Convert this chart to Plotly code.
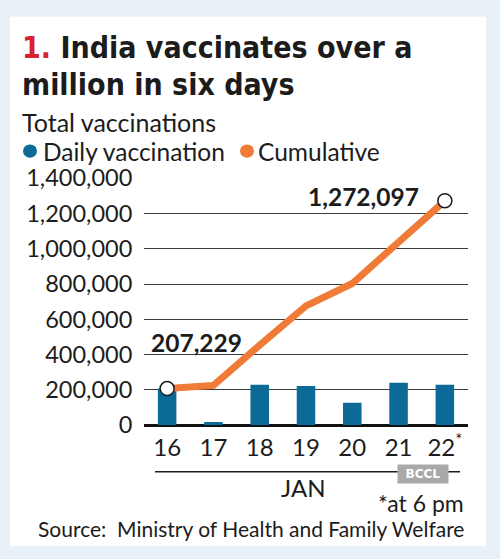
import plotly.graph_objects as go

days = ["16", "17", "18", "19", "20", "21", "22"]
day_labels = ["16", "17", "18", "19", "20", "21", "22<sup>*</sup>"]
daily = [207229, 17900, 229000, 222000, 127000, 240000, 229000]
cumulative = [207229, 225100, 454100, 676100, 803100, 1043100, 1272097]
y_ticks = [0, 200000, 400000, 600000, 800000, 1000000, 1200000, 1400000]
y_tick_labels = ["0", "200,000", "400,000", "600,000", "800,000", "1,000,000", "1,200,000", "1,400,000"]
series_names = ["Daily vaccination", "Cumulative"]

W, H = 500, 559
BLUE = "#0b6a96"
ORANGE = "#f07b37"
DARK = "#1c1c1c"
FONT = "Lato"
TITLE_FONT = "DejaVu Sans Condensed"

def px(x):
    return x / W

def py(y):
    return 1 - y / H

fig = go.Figure()
fig.add_trace(go.Bar(x=days, y=daily, marker=dict(color=BLUE, line=dict(width=0)),
                     width=0.4, name=series_names[0]))
fig.add_trace(go.Scatter(x=days, y=cumulative, mode="lines",
                         line=dict(color=ORANGE, width=7), name=series_names[1], cliponaxis=False))
end_idx = [0, len(days) - 1]
fig.add_trace(go.Scatter(x=[days[i] for i in end_idx], y=[cumulative[i] for i in end_idx],
                         mode="markers", cliponaxis=False,
                         marker=dict(size=14, color="white", line=dict(color=DARK, width=1.5)),
                         showlegend=False))

annotations = [
    dict(x=end_idx[0], y=cumulative[0], xref="x", yref="y", text="<b>{:,}</b>".format(cumulative[0]),
         showarrow=False, xanchor="left", yanchor="bottom", xshift=-18, yshift=30,
         font=dict(family=FONT, size=24.5, color=DARK)),
    dict(x=end_idx[1], y=cumulative[-1], xref="x", yref="y", text="<b>{:,}</b>".format(cumulative[-1]),
         showarrow=False, xanchor="right", yanchor="middle", xshift=-24, yshift=4,
         font=dict(family=FONT, size=24.5, color=DARK)),
    dict(x=px(20), y=py(35), xref="paper", yref="paper", xanchor="left", yanchor="middle",
         text="<b><span style='color:#d8212b'>1.</span> India vaccinates over a</b>",
         showarrow=False, font=dict(family=TITLE_FONT, size=30, color=DARK)),
    dict(x=px(20), y=py(74), xref="paper", yref="paper", xanchor="left", yanchor="middle",
         text="<b>million in six days</b>",
         showarrow=False, font=dict(family=TITLE_FONT, size=30, color=DARK)),
    dict(x=px(20), y=py(114), xref="paper", yref="paper", xanchor="left", yanchor="middle",
         text="Total vaccinations", showarrow=False,
         font=dict(family=FONT, size=25, color=DARK)),
    dict(x=px(42), y=py(144), xref="paper", yref="paper", xanchor="left", yanchor="middle",
         text=series_names[0], showarrow=False, borderpad=0,
         font=dict(family=FONT, size=24.5, color=DARK)),
    dict(x=px(257), y=py(144), xref="paper", yref="paper", xanchor="left", yanchor="middle",
         text=series_names[1], showarrow=False, borderpad=0,
         font=dict(family=FONT, size=24.5, color=DARK)),
    dict(x=px(303), y=py(498), xref="paper", yref="paper", xanchor="center", yanchor="middle",
         text="JAN", showarrow=False, font=dict(family=FONT, size=24, color=DARK)),
    dict(x=px(466), y=py(514), xref="paper", yref="paper", xanchor="right", yanchor="middle",
         text="*at 6 pm", showarrow=False, font=dict(family=FONT, size=23, color=DARK)),
    dict(x=px(466), y=py(541), xref="paper", yref="paper", xanchor="right", yanchor="middle",
         text="Source:  Ministry of Health and Family Welfare", showarrow=False,
         font=dict(family=FONT, size=21, color=DARK)),
    dict(x=px(423), y=py(483), xref="paper", yref="paper", xanchor="center", yanchor="middle",
         text="<b>BCCL</b>", showarrow=False, bgcolor="#a9a9a9", borderpad=2,
         font=dict(family="DejaVu Sans", size=12, color="white"), width=46),
]

shapes = [
    dict(type="rect", xref="paper", yref="paper", x0=px(10), x1=px(486), y0=py(559), y1=py(3),
         fillcolor="white", line=dict(width=0), layer="below"),
    dict(type="line", xref="paper", yref="paper", x0=px(155), x1=px(460), y0=py(481), y1=py(481),
         line=dict(color=DARK, width=1.5)),
    dict(type="circle", xref="paper", yref="paper", x0=px(23), x1=px(37), y0=py(151), y1=py(137),
         fillcolor=BLUE, line=dict(width=0)),
    dict(type="circle", xref="paper", yref="paper", x0=px(240), x1=px(254), y0=py(151), y1=py(137),
         fillcolor=ORANGE, line=dict(width=0)),
]

fig.update_layout(
    width=W, height=H,
    margin=dict(l=0, r=0, t=0, b=0),
    paper_bgcolor="#e9f1f8", plot_bgcolor="white",
    showlegend=False, bargap=0.6,
    annotations=annotations, shapes=shapes,
    xaxis=dict(domain=[px(144), px(468)], type="category", range=[-0.5, 6.5],
               tickvals=days, ticktext=day_labels, showgrid=False, zeroline=False,
               ticks="outside", ticklen=1, tickcolor="rgba(0,0,0,0)",
               tickfont=dict(family=FONT, size=24, color=DARK), showline=False),
    yaxis=dict(domain=[py(432), py(172)], range=[0, 1403000],
               tickvals=y_ticks, ticktext=y_tick_labels,
               showgrid=True, gridcolor="#3a3a3a", gridwidth=1.3,
               zeroline=True, zerolinecolor="#111111", zerolinewidth=3,
               ticks="outside", ticklen=6, tickcolor="rgba(0,0,0,0)",
               tickfont=dict(family=FONT, size=23.5, color=DARK), showline=False),
)

fig.write_html("out.html", post_script="document.body.style.margin='0';",
               config={"displayModeBar": False})
